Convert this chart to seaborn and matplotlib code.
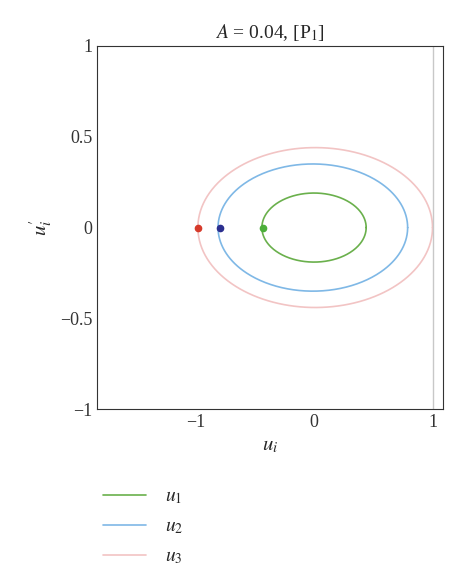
import numpy as np
import matplotlib.pyplot as plt
import seaborn as sns
sns.set_style("white")
plt.rcParams['font.family'] = ['Liberation Serif', 'DejaVu Serif']
plt.rcParams['mathtext.fontset'] = 'stix'

# orbit data
names = ['$u_1$', '$u_2$', '$u_3$']
x_radius = [0.44, 0.80, 0.99]
y_radius = [0.19, 0.35, 0.44]
x_center = [0.0, -0.01, 0.01]
start_x = [-0.43, -0.79, -0.98]
line_colors = ['#6ab04c', '#7fb8e6', '#f2c4c4']
dot_colors = ['#4caf3a', '#2b2f8f', '#d63a2a']

fig = plt.figure(figsize=(4.74, 5.88), dpi=100)
ax = fig.add_axes([0.205, 0.304, 0.73, 0.618])
theta = np.linspace(0, 2 * np.pi, 400)
for n, rx, ry, cx, c in zip(names, x_radius, y_radius, x_center, line_colors):
    sns.lineplot(x=cx + rx * np.cos(theta), y=ry * np.sin(theta), sort=False,
                 color=c, lw=1.2, ax=ax, label=n, estimator=None)
for sx, c in zip(start_x, dot_colors):
    ax.plot(sx, 0, 'o', color=c, ms=4.5, zorder=5)
ax.axvline(1.0, color='#c8c8c8', lw=1)

ax.set_xlim(-1.83, 1.09)
ax.set_ylim(-1, 1)
ax.set_xticks([-1, 0, 1])
ax.set_xticklabels(['−1', '0', '1'])
ax.set_yticks([-1, -0.5, 0, 0.5, 1])
ax.set_yticklabels(['−1', '−0.5', '0', '0.5', '1'])
ax.tick_params(direction='in', length=4, labelsize=13, colors='#333333')
for s in ax.spines.values():
    s.set_color('#333333')
    s.set_linewidth(0.8)
ax.set_xlabel('$u_i$', fontsize=15)
ax.set_ylabel("$u_i'$", fontsize=15)
ax.set_title('$A$ = 0.04, [P$_1$]', fontsize=14)

h, l = ax.get_legend_handles_labels()
ax.get_legend().remove()
fig.legend(h, l, loc='upper left', bbox_to_anchor=(0.18, 0.2), frameon=False,
           fontsize=14, handlelength=2.2, labelspacing=0.6, handletextpad=1.0)
fig.savefig('out.png', dpi=100)
